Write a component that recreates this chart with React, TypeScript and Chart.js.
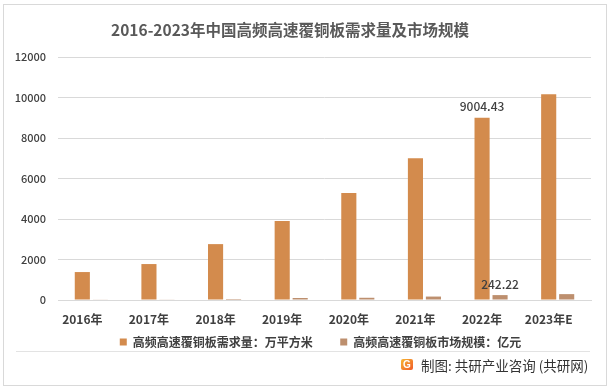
import React, { useEffect, useRef } from "react";
import { Chart, registerables } from "chart.js";

Chart.register(...registerables);

const categories = ["2016年", "2017年", "2018年", "2019年", "2020年", "2021年", "2022年", "2023年E"];
const demandValues = [1380, 1775, 2760, 3900, 5280, 7000, 9004.43, 10160];
const marketValues = [20, 30, 50, 100, 110, 170, 242.22, 290];
const demandLabels = ["", "", "", "", "", "", "9004.43", ""];
const marketLabels = ["", "", "", "", "", "", "242.22", ""];
const yTicks = [0, 2000, 4000, 6000, 8000, 10000, 12000];

const seriesNames = ["高频高速覆铜板需求量：万平方米", "高频高速覆铜板市场规模：亿元"];
const colors = ["#D38B4D", "#BD8F6E"];
const titleText = "2016-2023年中国高频高速覆铜板需求量及市场规模";
const footerText = "制图: 共研产业咨询 (共研网)";

const FONT = "'Noto Sans CJK SC', 'Microsoft YaHei', sans-serif";

const valueLabelPlugin = {
  id: "valueLabels",
  afterDatasetsDraw(chart: any) {
    const ctx = chart.ctx;
    const labelSets = [demandLabels, marketLabels];
    ctx.save();
    ctx.font = `500 12px ${FONT}`;
    ctx.fillStyle = "#404040";
    ctx.textAlign = "center";
    ctx.textBaseline = "bottom";
    chart.data.datasets.forEach((_ds: any, di: number) => {
      const meta = chart.getDatasetMeta(di);
      meta.data.forEach((bar: any, i: number) => {
        const t = labelSets[di][i];
        if (t) ctx.fillText(t, bar.x, bar.y - 5);
      });
    });
    ctx.restore();
  },
};

const legendShiftPlugin = {
  id: "legendShift",
  afterLayout(chart: any) {
    if (chart.legend) {
      chart.legend.left += 25;
      chart.legend.right += 25;
    }
  },
};

export default function App() {
  const ref = useRef<HTMLCanvasElement>(null);
  useEffect(() => {
    if (!ref.current) return;
    const chart = new Chart(ref.current, {
      type: "bar",
      data: {
        labels: categories,
        datasets: [
          {
            label: seriesNames[0],
            data: demandValues,
            backgroundColor: colors[0],
            categoryPercentage: 0.54,
            barPercentage: 0.84,
          },
          {
            label: seriesNames[1],
            data: marketValues,
            backgroundColor: colors[1],
            categoryPercentage: 0.54,
            barPercentage: 0.84,
          },
        ],
      },
      options: {
        animation: false,
        responsive: false,
        maintainAspectRatio: false,
        layout: { padding: { top: 57, right: 24, bottom: 33, left: 0 } },
        plugins: {
          title: { display: false },
          tooltip: { enabled: false },
          legend: {
            position: "bottom",
            labels: {
              boxWidth: 7,
              boxHeight: 7,
              padding: 10,
              color: "#404040",
              font: { family: FONT, size: 12, weight: "bold" },
              generateLabels: (c: any) =>
                c.data.datasets.map((ds: any, i: number) => ({
                  text: i === 0 ? ds.label + "\u3000  " : ds.label,
                  fillStyle: ds.backgroundColor,
                  strokeStyle: ds.backgroundColor,
                  lineWidth: 0,
                  hidden: false,
                  datasetIndex: i,
                  fontColor: "#404040",
                })),
            },
          },
        },
        scales: {
          x: {
            afterFit: (s: any) => {
              s.height = 26;
            },
            grid: { display: false, drawTicks: false },
            border: { display: true, color: "#d9d9d9" },
            ticks: {
              color: "#404040",
              font: { family: FONT, size: 12, weight: "bold" },
              padding: 12,
              labelOffset: -9,
              maxRotation: 0,
              autoSkip: false,
            },
          },
          y: {
            min: 0,
            max: 12000,
            afterFit: (s: any) => {
              s.width = 58;
            },
            afterBuildTicks: (s: any) => {
              s.ticks = yTicks.map((v) => ({ value: v }));
            },
            grid: { color: "#d9d9d9", drawTicks: false },
            border: { display: false },
            ticks: {
              color: "#404040",
              font: { family: FONT, size: 11, weight: "500" },
              padding: 12,
              callback: (v: any) => String(v),
            },
          },
        },
      },
      plugins: [valueLabelPlugin, legendShiftPlugin],
    });
    return () => chart.destroy();
  }, []);

  return (
    <div style={{ position: "absolute", left: 0, top: 0, width: 615, height: 391, background: "#fff", overflow: "hidden" }}>
      <div style={{ position: "absolute", left: 3, top: 4, width: 602, height: 380, border: "1px solid #d9d9d9" }} />
      <canvas ref={ref} width={615} height={391} style={{ position: "absolute", left: 0, top: 0, width: 615, height: 391 }} />
      <div
        style={{
          position: "absolute",
          left: 0,
          width: 580,
          top: 17,
          textAlign: "center",
          fontFamily: FONT,
          fontWeight: "bold",
          fontSize: 15.5,
          lineHeight: "24px",
          color: "#595959",
          whiteSpace: "nowrap",
        }}
      >
        {titleText}
      </div>
      <div style={{ position: "absolute", left: 16, top: 351, width: 574, height: 1, background: "#e3e3e3" }} />
      <div
        style={{
          position: "absolute",
          left: 401,
          top: 359,
          width: 12,
          height: 11,
          borderRadius: 2,
          background: "linear-gradient(135deg, #f7b733, #f05a28)",
          color: "#fff",
          fontFamily: "Arial, sans-serif",
          fontWeight: "bold",
          fontSize: 10,
          lineHeight: "11px",
          textAlign: "center",
        }}
      >
        G
      </div>
      <div
        style={{
          position: "absolute",
          left: 421,
          top: 356,
          fontFamily: FONT,
          fontSize: 13.5,
          lineHeight: "18px",
          color: "#333",
          whiteSpace: "nowrap",
        }}
      >
        {footerText}
      </div>
    </div>
  );
}
